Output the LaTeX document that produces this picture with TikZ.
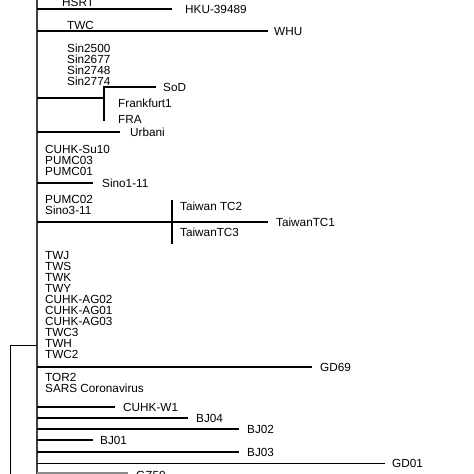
\documentclass[tikz,border=0pt]{standalone}
\usepackage{fontspec}
\setmainfont{Liberation Sans}
\begin{document}
\begin{tikzpicture}[x=1bp,y=-1bp,
  lab/.style={anchor=west,inner sep=0pt,font=\fontsize{11.8}{12}\selectfont,text height=8.5bp,text depth=0pt,text=black},
  br/.style={line width=1.3bp,black},
  trunk/.style={line width=1.5bp,black!75},
]
\useasboundingbox (0,0) rectangle (474,474);
\clip (0,0) rectangle (474,474);
% trunk and root
\coordinate (ttop) at (37,-3);
\coordinate (tbot) at (37,477);
\draw[trunk] (ttop) -- (tbot);
\coordinate (rootb) at (10,477);
\coordinate (root) at (10,345);
\coordinate (rootj) at (37,345);
\draw[br,line width=1bp] (rootb) -- (root) -- (rootj);

% branch points on the trunk
\foreach \n/\y in {a/9,b/31,c/98,d/132,e/183,f/222,g/367,h/407,i/418,j/429,k/440,l/452,m/463,n/473}
  \coordinate (j\n) at (37,\y);

% leaf labels
\node[lab] (hsrt) at (62,2.5) {HSRT};
\node[lab] (hku) at (185,9) {HKU-39489};
\node[lab] (twc) at (67,25) {TWC};
\node[lab] (whu) at (274,31) {WHU};
\node[lab] (sin1) at (67,48) {Sin2500};
\node[lab] (sin2) at (67,59) {Sin2677};
\node[lab] (sin3) at (67,70) {Sin2748};
\node[lab] (sin4) at (67,81) {Sin2774};
\node[lab] (sod) at (163,87) {SoD};
\node[lab] (fra1) at (118,103) {Frankfurt1};
\node[lab] (fra) at (118,119) {FRA};
\node[lab] (urb) at (130,132) {Urbani};
\node[lab] (su10) at (45,149) {CUHK-Su10};
\node[lab] (p03) at (45,160) {PUMC03};
\node[lab] (p01) at (45,171) {PUMC01};
\node[lab] (s111) at (102,183) {Sino1-11};
\node[lab] (p02) at (45,199) {PUMC02};
\node[lab] (s311) at (45,210) {Sino3-11};
\node[lab] (tc2) at (180,206) {Taiwan TC2};
\node[lab] (tc1) at (276,222) {TaiwanTC1};
\node[lab] (tc3) at (180,232) {TaiwanTC3};
\foreach \t [count=\k from 0] in {TWJ,TWS,TWK,TWY,CUHK-AG02,CUHK-AG01,CUHK-AG03,TWC3,TWH,TWC2}
  \node[lab] (tw\k) at (45,255+11*\k) {\t};
\node[lab] (gd69) at (320,367) {GD69};
\node[lab] (tor2) at (45,377) {TOR2};
\node[lab] (sars) at (45,388) {SARS Coronavirus};
\node[lab] (w1) at (123,407) {CUHK-W1};
\node[lab] (bj04) at (196,418) {BJ04};
\node[lab] (bj02) at (247,429) {BJ02};
\node[lab] (bj01) at (100,440) {BJ01};
\node[lab] (bj03) at (247,452) {BJ03};
\node[lab] (gd01) at (392,463) {GD01};
\node[lab] (gz50) at (136,475.5) {GZ50};

% branches
\draw[br] (ja) -- ([xshift=-13bp]ja -| hku.west);
\draw[br] (jb) -- ([xshift=-6bp]jb -| whu.west);
\coordinate (sodj) at (104,98);
\coordinate (sodt) at (104,87);
\coordinate (sodb) at (104,121);
\draw[br] (jc) -- (sodj);
\draw[br] (sodb) -- (sodt) -- ([xshift=-7bp]sodt -| sod.west);
\draw[br] (jd) -- ([xshift=-10bp]jd -| urb.west);
\draw[br] (je) -- ([xshift=-9bp]je -| s111.west);
\coordinate (twt) at (172,200);
\coordinate (twb) at (172,244);
\draw[br] (twt) -- (twb);
\draw[br] (jf) -- ([xshift=-8bp]jf -| tc1.west);
\draw[br] (jg) -- ([xshift=-8bp]jg -| gd69.west);
\draw[br] (jh) -- ([xshift=-8bp]jh -| w1.west);
\draw[br] (ji) -- ([xshift=-8bp]ji -| bj04.west);
\draw[br] (jj) -- ([xshift=-8bp]jj -| bj02.west);
\draw[br] (jk) -- ([xshift=-7bp]jk -| bj01.west);
\draw[br] (jl) -- ([xshift=-8bp]jl -| bj03.west);
\draw[br,line width=1bp] (jm) -- ([xshift=-7bp]jm -| gd01.west);
\draw[br,black!45,line width=1.4bp] (jn) -- ([xshift=-8bp]jn -| gz50.west);
\end{tikzpicture}
\end{document}
